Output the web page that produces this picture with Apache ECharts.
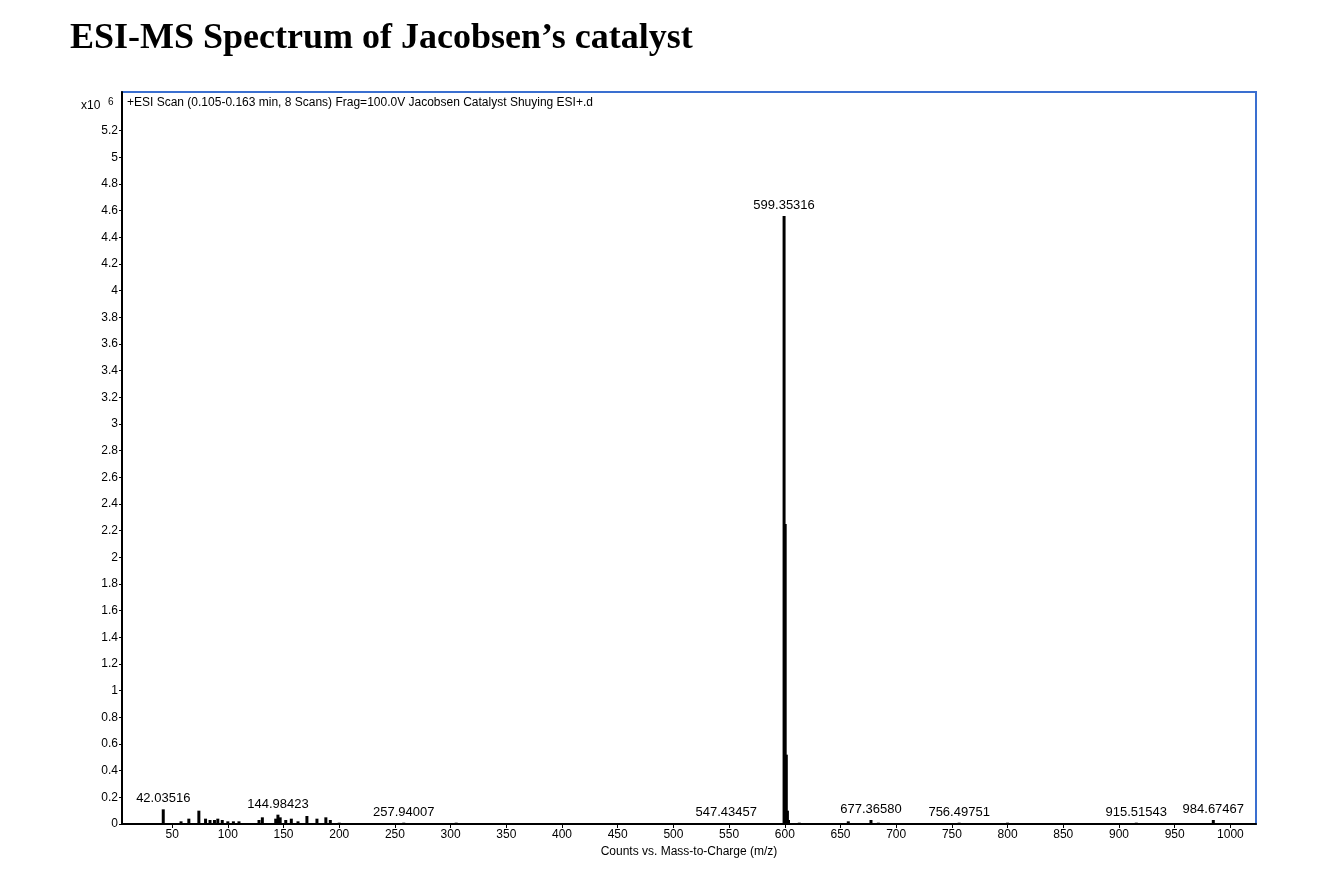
<!DOCTYPE html>
<html>
<head>
<meta charset="utf-8">
<script src="https://cdn.jsdelivr.net/npm/echarts@6/dist/echarts.min.js"></script>
<style>
html,body{margin:0;padding:0;background:#fff}
#title{position:absolute;left:70px;top:15px;font:bold 36px "Liberation Serif","DejaVu Serif",serif;color:#000}
#chart{position:absolute;left:0;top:0;width:1319px;height:884px}
</style>
</head>
<body>
<div id="chart"></div>
<div id="title">ESI-MS Spectrum of Jacobsen’s catalyst</div>
<script>
// m/z of each peak and its intensity (x10^6 counts)
const mzList = [42.03516, 58, 65, 74, 80, 84, 88, 91, 95, 100, 105, 110, 128, 131, 143, 144.98423, 147, 152, 157, 163, 171, 180, 188, 192, 200, 257.94007, 305, 547.43457, 599.35316, 600.35, 601.35, 602.35, 603.3, 613, 657, 677.3658, 684, 756.49751, 800, 915.51543, 984.67467]
const intensity = [0.11, 0.02, 0.04, 0.10, 0.04, 0.03, 0.03, 0.04, 0.03, 0.02, 0.02, 0.02, 0.03, 0.05, 0.04, 0.07, 0.05, 0.03, 0.04, 0.02, 0.06, 0.04, 0.05, 0.03, 0.01, 0.01, 0.01, 0.005, 4.56, 2.25, 0.52, 0.10, 0.03, 0.01, 0.02, 0.03, 0.01, 0.01, 0.01, 0.01, 0.03]
const labelled = ['42.03516', '144.98423', '257.94007', '547.43457', '599.35316', '677.36580', '756.49751', '915.51543', '984.67467']
const xTicks = [50, 100, 150, 200, 250, 300, 350, 400, 450, 500, 550, 600, 650, 700, 750, 800, 850, 900, 950, 1000]
const yTicks = [0, 0.2, 0.4, 0.6, 0.8, 1, 1.2, 1.4, 1.6, 1.8, 2, 2.2, 2.4, 2.6, 2.8, 3, 3.2, 3.4, 3.6, 3.8, 4, 4.2, 4.4, 4.6, 4.8, 5, 5.2]

let chart = echarts.init(document.getElementById('chart'))
let data = mzList.map((mz, i) => {
	let txt = labelled.find(l => Math.abs(parseFloat(l) - mz) < 0.001)
	return {
		value: [mz, intensity[i]],
		label: { show: !!txt, formatter: txt || '' }
	}
})
let option = {
	animation: false,
	textStyle: { fontFamily: 'Arial, "Liberation Sans", sans-serif' },
	grid: { left: 122, right: 63, top: 92, bottom: 60, show: true, borderColor: '#3a6fd0', borderWidth: 2 },
	graphic: [
		{ type: 'text', left: 81, top: 100, style: { text: 'x10', font: '12px Arial', fill: '#000' } },
		{ type: 'text', left: 108, top: 97, style: { text: '6', font: '10px Arial', fill: '#000' } },
		{ type: 'text', left: 127, top: 97, style: { text: '+ESI Scan (0.105-0.163 min, 8 Scans) Frag=100.0V Jacobsen Catalyst Shuying ESI+.d', font: '12px Arial', fill: '#000' } }
	],
	xAxis: {
		type: 'value', min: 5, max: 1023,
		name: 'Counts vs. Mass-to-Charge (m/z)', nameLocation: 'middle', nameGap: 19,
		nameTextStyle: { fontSize: 12, color: '#000' },
		axisLine: { show: true, lineStyle: { color: '#000', width: 2 } },
		axisTick: { show: true, length: 4, customValues: xTicks, lineStyle: { color: '#000' } },
		axisLabel: { customValues: xTicks, fontSize: 12, color: '#000', margin: 5, formatter: v => String(v) },
		splitLine: { show: false }
	},
	yAxis: {
		type: 'value', min: 0, max: 5.49,
		axisLine: { show: true, lineStyle: { color: '#000', width: 2 } },
		axisTick: { show: true, length: 3, customValues: yTicks, lineStyle: { color: '#000' } },
		axisLabel: { customValues: yTicks, fontSize: 12, color: '#000', margin: 4 },
		splitLine: { show: false }
	},
	series: [{
		type: 'bar',
		data: data,
		barWidth: 3,
		itemStyle: { color: '#000' },
		label: { position: 'top', distance: 4, fontSize: 13, color: '#000' }
	}]
}
chart.setOption(option)
</script>
</body>
</html>
